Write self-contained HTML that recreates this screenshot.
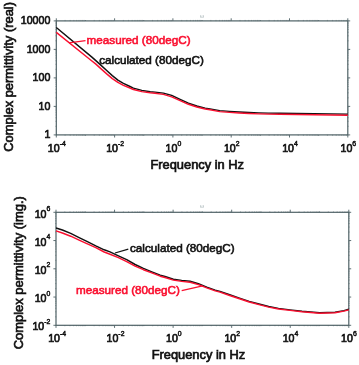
<!DOCTYPE html>
<html><head><meta charset="utf-8"><title>Complex permittivity</title>
<style>
html,body{margin:0;padding:0;background:#fff;}
svg{display:block;filter:blur(0.3px)}
text{font-family:"Liberation Sans",Arial,sans-serif;fill:#111;stroke:#111;}
.t{font-size:11.3px;stroke-width:0.7px;}
.s{font-size:7.3px;stroke-width:0.5px;}
.l{font-size:12.7px;stroke-width:0.65px;}
.x{font-size:12.85px;stroke-width:0.7px;}
.a{font-size:11.7px;stroke-width:0.6px;}
.r{fill:#fa1030;stroke:#fa1030;}
</style></head><body>
<svg width="359" height="365" viewBox="0 0 359 365">
<rect width="359" height="365" fill="#fff" stroke="none"/>
<rect x="56.3" y="20.9" width="291.5" height="114.0" fill="none" stroke="#4f6266" stroke-width="1.2"/>
<path d="M56.30 134.9v2.6M56.30 20.9v-2.6M85.45 134.9v0.8M85.45 20.9v-0.8M114.60 134.9v2.6M114.60 20.9v-2.6M143.75 134.9v0.8M143.75 20.9v-0.8M172.90 134.9v2.6M172.90 20.9v-2.6M202.05 134.9v0.8M202.05 20.9v-0.8M231.20 134.9v2.6M231.20 20.9v-2.6M260.35 134.9v0.8M260.35 20.9v-0.8M289.50 134.9v2.6M289.50 20.9v-2.6M318.65 134.9v0.8M318.65 20.9v-0.8M347.80 134.9v2.6M347.80 20.9v-2.6M56.3 20.90h-2.6M347.8 20.90h2.4M56.3 49.40h-2.6M347.8 49.40h2.4M56.3 77.90h-2.6M347.8 77.90h2.4M56.3 106.40h-2.6M347.8 106.40h2.4M56.3 134.90h-2.6M347.8 134.90h2.4" stroke="#4f6266" stroke-width="0.9" fill="none"/>
<path d="M65.08 134.6v1.3M65.08 21.2v-1.3M70.21 134.6v1.3M70.21 21.2v-1.3M73.85 134.6v1.3M73.85 21.2v-1.3M76.67 134.6v1.3M76.67 21.2v-1.3M78.98 134.6v1.3M78.98 21.2v-1.3M80.93 134.6v1.3M80.93 21.2v-1.3M82.63 134.6v1.3M82.63 21.2v-1.3M84.12 134.6v1.3M84.12 21.2v-1.3M94.23 134.6v1.3M94.23 21.2v-1.3M99.36 134.6v1.3M99.36 21.2v-1.3M103.00 134.6v1.3M103.00 21.2v-1.3M105.82 134.6v1.3M105.82 21.2v-1.3M108.13 134.6v1.3M108.13 21.2v-1.3M110.08 134.6v1.3M110.08 21.2v-1.3M111.78 134.6v1.3M111.78 21.2v-1.3M113.27 134.6v1.3M113.27 21.2v-1.3M123.38 134.6v1.3M123.38 21.2v-1.3M128.51 134.6v1.3M128.51 21.2v-1.3M132.15 134.6v1.3M132.15 21.2v-1.3M134.97 134.6v1.3M134.97 21.2v-1.3M137.28 134.6v1.3M137.28 21.2v-1.3M139.23 134.6v1.3M139.23 21.2v-1.3M140.93 134.6v1.3M140.93 21.2v-1.3M142.42 134.6v1.3M142.42 21.2v-1.3M152.53 134.6v1.3M152.53 21.2v-1.3M157.66 134.6v1.3M157.66 21.2v-1.3M161.30 134.6v1.3M161.30 21.2v-1.3M164.12 134.6v1.3M164.12 21.2v-1.3M166.43 134.6v1.3M166.43 21.2v-1.3M168.38 134.6v1.3M168.38 21.2v-1.3M170.08 134.6v1.3M170.08 21.2v-1.3M171.57 134.6v1.3M171.57 21.2v-1.3M181.68 134.6v1.3M181.68 21.2v-1.3M186.81 134.6v1.3M186.81 21.2v-1.3M190.45 134.6v1.3M190.45 21.2v-1.3M193.27 134.6v1.3M193.27 21.2v-1.3M195.58 134.6v1.3M195.58 21.2v-1.3M197.53 134.6v1.3M197.53 21.2v-1.3M199.23 134.6v1.3M199.23 21.2v-1.3M200.72 134.6v1.3M200.72 21.2v-1.3M210.83 134.6v1.3M210.83 21.2v-1.3M215.96 134.6v1.3M215.96 21.2v-1.3M219.60 134.6v1.3M219.60 21.2v-1.3M222.42 134.6v1.3M222.42 21.2v-1.3M224.73 134.6v1.3M224.73 21.2v-1.3M226.68 134.6v1.3M226.68 21.2v-1.3M228.38 134.6v1.3M228.38 21.2v-1.3M229.87 134.6v1.3M229.87 21.2v-1.3M239.98 134.6v1.3M239.98 21.2v-1.3M245.11 134.6v1.3M245.11 21.2v-1.3M248.75 134.6v1.3M248.75 21.2v-1.3M251.57 134.6v1.3M251.57 21.2v-1.3M253.88 134.6v1.3M253.88 21.2v-1.3M255.83 134.6v1.3M255.83 21.2v-1.3M257.53 134.6v1.3M257.53 21.2v-1.3M259.02 134.6v1.3M259.02 21.2v-1.3M269.13 134.6v1.3M269.13 21.2v-1.3M274.26 134.6v1.3M274.26 21.2v-1.3M277.90 134.6v1.3M277.90 21.2v-1.3M280.72 134.6v1.3M280.72 21.2v-1.3M283.03 134.6v1.3M283.03 21.2v-1.3M284.98 134.6v1.3M284.98 21.2v-1.3M286.68 134.6v1.3M286.68 21.2v-1.3M288.17 134.6v1.3M288.17 21.2v-1.3M298.28 134.6v1.3M298.28 21.2v-1.3M303.41 134.6v1.3M303.41 21.2v-1.3M307.05 134.6v1.3M307.05 21.2v-1.3M309.87 134.6v1.3M309.87 21.2v-1.3M312.18 134.6v1.3M312.18 21.2v-1.3M314.13 134.6v1.3M314.13 21.2v-1.3M315.83 134.6v1.3M315.83 21.2v-1.3M317.32 134.6v1.3M317.32 21.2v-1.3M327.43 134.6v1.3M327.43 21.2v-1.3M332.56 134.6v1.3M332.56 21.2v-1.3M336.20 134.6v1.3M336.20 21.2v-1.3M339.02 134.6v1.3M339.02 21.2v-1.3M341.33 134.6v1.3M341.33 21.2v-1.3M343.28 134.6v1.3M343.28 21.2v-1.3M344.98 134.6v1.3M344.98 21.2v-1.3M346.47 134.6v1.3M346.47 21.2v-1.3M56.599999999999994 40.82h-1.3M347.5 40.82h1.3M56.599999999999994 35.80h-1.3M347.5 35.80h1.3M56.599999999999994 32.24h-1.3M347.5 32.24h1.3M56.599999999999994 29.48h-1.3M347.5 29.48h1.3M56.599999999999994 27.22h-1.3M347.5 27.22h1.3M56.599999999999994 25.31h-1.3M347.5 25.31h1.3M56.599999999999994 23.66h-1.3M347.5 23.66h1.3M56.599999999999994 22.20h-1.3M347.5 22.20h1.3M56.599999999999994 69.32h-1.3M347.5 69.32h1.3M56.599999999999994 64.30h-1.3M347.5 64.30h1.3M56.599999999999994 60.74h-1.3M347.5 60.74h1.3M56.599999999999994 57.98h-1.3M347.5 57.98h1.3M56.599999999999994 55.72h-1.3M347.5 55.72h1.3M56.599999999999994 53.81h-1.3M347.5 53.81h1.3M56.599999999999994 52.16h-1.3M347.5 52.16h1.3M56.599999999999994 50.70h-1.3M347.5 50.70h1.3M56.599999999999994 97.82h-1.3M347.5 97.82h1.3M56.599999999999994 92.80h-1.3M347.5 92.80h1.3M56.599999999999994 89.24h-1.3M347.5 89.24h1.3M56.599999999999994 86.48h-1.3M347.5 86.48h1.3M56.599999999999994 84.22h-1.3M347.5 84.22h1.3M56.599999999999994 82.31h-1.3M347.5 82.31h1.3M56.599999999999994 80.66h-1.3M347.5 80.66h1.3M56.599999999999994 79.20h-1.3M347.5 79.20h1.3M56.599999999999994 126.32h-1.3M347.5 126.32h1.3M56.599999999999994 121.30h-1.3M347.5 121.30h1.3M56.599999999999994 117.74h-1.3M347.5 117.74h1.3M56.599999999999994 114.98h-1.3M347.5 114.98h1.3M56.599999999999994 112.72h-1.3M347.5 112.72h1.3M56.599999999999994 110.81h-1.3M347.5 110.81h1.3M56.599999999999994 109.16h-1.3M347.5 109.16h1.3M56.599999999999994 107.70h-1.3M347.5 107.70h1.3" stroke="#4f6266" stroke-width="0.5" fill="none" opacity="0.8"/>
<rect x="56.0" y="212.3" width="292.8" height="113.0" fill="none" stroke="#4f6266" stroke-width="1.2"/>
<path d="M56.00 325.3v2.6M56.00 212.3v-2.6M85.28 325.3v0.8M85.28 212.3v-0.8M114.56 325.3v2.6M114.56 212.3v-2.6M143.84 325.3v0.8M143.84 212.3v-0.8M173.12 325.3v2.6M173.12 212.3v-2.6M202.40 325.3v0.8M202.40 212.3v-0.8M231.68 325.3v2.6M231.68 212.3v-2.6M260.96 325.3v0.8M260.96 212.3v-0.8M290.24 325.3v2.6M290.24 212.3v-2.6M319.52 325.3v0.8M319.52 212.3v-0.8M348.80 325.3v2.6M348.80 212.3v-2.6M56.0 212.30h-2.6M348.8 212.30h2.4M56.0 240.55h-2.6M348.8 240.55h2.4M56.0 268.80h-2.6M348.8 268.80h2.4M56.0 297.05h-2.6M348.8 297.05h2.4M56.0 325.30h-2.6M348.8 325.30h2.4" stroke="#4f6266" stroke-width="0.9" fill="none"/>
<path d="M64.81 325.0v1.3M64.81 212.60000000000002v-1.3M69.97 325.0v1.3M69.97 212.60000000000002v-1.3M73.63 325.0v1.3M73.63 212.60000000000002v-1.3M76.47 325.0v1.3M76.47 212.60000000000002v-1.3M78.78 325.0v1.3M78.78 212.60000000000002v-1.3M80.74 325.0v1.3M80.74 212.60000000000002v-1.3M82.44 325.0v1.3M82.44 212.60000000000002v-1.3M83.94 325.0v1.3M83.94 212.60000000000002v-1.3M94.09 325.0v1.3M94.09 212.60000000000002v-1.3M99.25 325.0v1.3M99.25 212.60000000000002v-1.3M102.91 325.0v1.3M102.91 212.60000000000002v-1.3M105.75 325.0v1.3M105.75 212.60000000000002v-1.3M108.06 325.0v1.3M108.06 212.60000000000002v-1.3M110.02 325.0v1.3M110.02 212.60000000000002v-1.3M111.72 325.0v1.3M111.72 212.60000000000002v-1.3M113.22 325.0v1.3M113.22 212.60000000000002v-1.3M123.37 325.0v1.3M123.37 212.60000000000002v-1.3M128.53 325.0v1.3M128.53 212.60000000000002v-1.3M132.19 325.0v1.3M132.19 212.60000000000002v-1.3M135.03 325.0v1.3M135.03 212.60000000000002v-1.3M137.34 325.0v1.3M137.34 212.60000000000002v-1.3M139.30 325.0v1.3M139.30 212.60000000000002v-1.3M141.00 325.0v1.3M141.00 212.60000000000002v-1.3M142.50 325.0v1.3M142.50 212.60000000000002v-1.3M152.65 325.0v1.3M152.65 212.60000000000002v-1.3M157.81 325.0v1.3M157.81 212.60000000000002v-1.3M161.47 325.0v1.3M161.47 212.60000000000002v-1.3M164.31 325.0v1.3M164.31 212.60000000000002v-1.3M166.62 325.0v1.3M166.62 212.60000000000002v-1.3M168.58 325.0v1.3M168.58 212.60000000000002v-1.3M170.28 325.0v1.3M170.28 212.60000000000002v-1.3M171.78 325.0v1.3M171.78 212.60000000000002v-1.3M181.93 325.0v1.3M181.93 212.60000000000002v-1.3M187.09 325.0v1.3M187.09 212.60000000000002v-1.3M190.75 325.0v1.3M190.75 212.60000000000002v-1.3M193.59 325.0v1.3M193.59 212.60000000000002v-1.3M195.90 325.0v1.3M195.90 212.60000000000002v-1.3M197.86 325.0v1.3M197.86 212.60000000000002v-1.3M199.56 325.0v1.3M199.56 212.60000000000002v-1.3M201.06 325.0v1.3M201.06 212.60000000000002v-1.3M211.21 325.0v1.3M211.21 212.60000000000002v-1.3M216.37 325.0v1.3M216.37 212.60000000000002v-1.3M220.03 325.0v1.3M220.03 212.60000000000002v-1.3M222.87 325.0v1.3M222.87 212.60000000000002v-1.3M225.18 325.0v1.3M225.18 212.60000000000002v-1.3M227.14 325.0v1.3M227.14 212.60000000000002v-1.3M228.84 325.0v1.3M228.84 212.60000000000002v-1.3M230.34 325.0v1.3M230.34 212.60000000000002v-1.3M240.49 325.0v1.3M240.49 212.60000000000002v-1.3M245.65 325.0v1.3M245.65 212.60000000000002v-1.3M249.31 325.0v1.3M249.31 212.60000000000002v-1.3M252.15 325.0v1.3M252.15 212.60000000000002v-1.3M254.46 325.0v1.3M254.46 212.60000000000002v-1.3M256.42 325.0v1.3M256.42 212.60000000000002v-1.3M258.12 325.0v1.3M258.12 212.60000000000002v-1.3M259.62 325.0v1.3M259.62 212.60000000000002v-1.3M269.77 325.0v1.3M269.77 212.60000000000002v-1.3M274.93 325.0v1.3M274.93 212.60000000000002v-1.3M278.59 325.0v1.3M278.59 212.60000000000002v-1.3M281.43 325.0v1.3M281.43 212.60000000000002v-1.3M283.74 325.0v1.3M283.74 212.60000000000002v-1.3M285.70 325.0v1.3M285.70 212.60000000000002v-1.3M287.40 325.0v1.3M287.40 212.60000000000002v-1.3M288.90 325.0v1.3M288.90 212.60000000000002v-1.3M299.05 325.0v1.3M299.05 212.60000000000002v-1.3M304.21 325.0v1.3M304.21 212.60000000000002v-1.3M307.87 325.0v1.3M307.87 212.60000000000002v-1.3M310.71 325.0v1.3M310.71 212.60000000000002v-1.3M313.02 325.0v1.3M313.02 212.60000000000002v-1.3M314.98 325.0v1.3M314.98 212.60000000000002v-1.3M316.68 325.0v1.3M316.68 212.60000000000002v-1.3M318.18 325.0v1.3M318.18 212.60000000000002v-1.3M328.33 325.0v1.3M328.33 212.60000000000002v-1.3M333.49 325.0v1.3M333.49 212.60000000000002v-1.3M337.15 325.0v1.3M337.15 212.60000000000002v-1.3M339.99 325.0v1.3M339.99 212.60000000000002v-1.3M342.30 325.0v1.3M342.30 212.60000000000002v-1.3M344.26 325.0v1.3M344.26 212.60000000000002v-1.3M345.96 325.0v1.3M345.96 212.60000000000002v-1.3M347.46 325.0v1.3M347.46 212.60000000000002v-1.3M56.3 232.05h-1.3M348.5 232.05h1.3M56.3 227.07h-1.3M348.5 227.07h1.3M56.3 223.54h-1.3M348.5 223.54h1.3M56.3 220.80h-1.3M348.5 220.80h1.3M56.3 218.57h-1.3M348.5 218.57h1.3M56.3 216.68h-1.3M348.5 216.68h1.3M56.3 215.04h-1.3M348.5 215.04h1.3M56.3 213.59h-1.3M348.5 213.59h1.3M56.3 260.30h-1.3M348.5 260.30h1.3M56.3 255.32h-1.3M348.5 255.32h1.3M56.3 251.79h-1.3M348.5 251.79h1.3M56.3 249.05h-1.3M348.5 249.05h1.3M56.3 246.82h-1.3M348.5 246.82h1.3M56.3 244.93h-1.3M348.5 244.93h1.3M56.3 243.29h-1.3M348.5 243.29h1.3M56.3 241.84h-1.3M348.5 241.84h1.3M56.3 288.55h-1.3M348.5 288.55h1.3M56.3 283.57h-1.3M348.5 283.57h1.3M56.3 280.04h-1.3M348.5 280.04h1.3M56.3 277.30h-1.3M348.5 277.30h1.3M56.3 275.07h-1.3M348.5 275.07h1.3M56.3 273.18h-1.3M348.5 273.18h1.3M56.3 271.54h-1.3M348.5 271.54h1.3M56.3 270.09h-1.3M348.5 270.09h1.3M56.3 316.80h-1.3M348.5 316.80h1.3M56.3 311.82h-1.3M348.5 311.82h1.3M56.3 308.29h-1.3M348.5 308.29h1.3M56.3 305.55h-1.3M348.5 305.55h1.3M56.3 303.32h-1.3M348.5 303.32h1.3M56.3 301.43h-1.3M348.5 301.43h1.3M56.3 299.79h-1.3M348.5 299.79h1.3M56.3 298.34h-1.3M348.5 298.34h1.3" stroke="#4f6266" stroke-width="0.5" fill="none" opacity="0.8"/>
<path d="M56.3 27.5 L92.2 57.4 L101.1 65.4 L106.7 70.5 L112.3 75.6 L117.9 80.1 L123.4 83.3 L130.0 86.5 L133.4 88.1 L141.8 90.4 L150.2 91.7 L155.0 92.1 L163.4 93.1 L171.7 95.4 L180.1 99.3 L188.4 103.1 L196.8 106.0 L205.2 108.1 L210.0 108.9 L219.7 110.6 L229.5 111.4 L239.2 112.0 L249.0 112.5 L258.7 112.9 L268.5 113.1 L280.0 113.3 L347.8 114.1" fill="none" stroke="#111" stroke-width="1.45" stroke-linejoin="round" stroke-linecap="butt"/>
<path d="M56.3 32.4 L90.0 59.5 L95.6 63.9 L101.1 68.9 L106.7 73.9 L112.3 78.6 L117.9 82.4 L123.4 85.3 L130.0 88.0 L133.4 89.5 L141.8 91.6 L150.2 92.8 L155.0 93.3 L163.4 94.4 L171.7 96.9 L180.1 100.7 L188.4 104.3 L196.8 107.0 L205.2 109.0 L210.0 109.8 L219.7 111.6 L229.5 112.4 L239.2 113.0 L249.0 113.5 L258.7 113.9 L268.5 114.1 L280.0 114.3 L347.8 115.3" fill="none" stroke="#fa1030" stroke-width="1.45" stroke-linejoin="round" stroke-linecap="butt"/>
<path d="M56.0 228.0 L62.4 230.0 L70.7 233.4 L79.1 237.6 L87.4 241.7 L95.8 245.9 L104.2 249.8 L110.0 251.9 L118.4 255.9 L126.7 259.7 L135.1 264.5 L143.4 268.4 L151.8 271.8 L160.2 275.1 L165.0 276.5 L173.4 279.2 L181.7 280.4 L190.1 281.2 L198.4 283.7 L206.8 287.1 L215.2 290.1 L220.0 291.4 L229.7 294.8 L239.5 298.1 L249.2 301.4 L259.0 304.0 L268.7 306.5 L278.5 308.4 L290.0 309.9 L302.0 311.3 L319.6 312.8 L335.0 312.2 L343.9 310.6 L348.8 309.3" fill="none" stroke="#111" stroke-width="1.45" stroke-linejoin="round" stroke-linecap="butt"/>
<path d="M56.0 230.9 L62.4 233.0 L70.7 236.2 L79.1 240.1 L87.4 243.9 L95.8 247.6 L104.2 252.0 L110.0 254.2 L118.4 257.6 L126.7 261.7 L135.1 266.2 L143.4 269.7 L151.8 272.9 L160.2 276.2 L165.0 277.5 L173.4 280.1 L181.7 281.4 L190.1 282.2 L198.4 284.6 L206.8 287.9 L215.2 290.9 L220.0 292.1 L229.7 295.5 L239.5 298.8 L249.2 302.0 L259.0 304.6 L268.7 307.1 L278.5 309.0 L290.0 310.4 L302.0 311.8 L319.6 313.3 L335.0 312.7 L343.9 311.1 L348.8 309.9" fill="none" stroke="#fa1030" stroke-width="1.45" stroke-linejoin="round" stroke-linecap="butt"/>
<path d="M69 42.9L85.5 40.6" stroke="#fa1030" stroke-width="1.2" fill="none"/>
<text x="86.6" y="44.1" class="a r">measured (80degC)</text>
<text x="99.2" y="63.6" class="a">calculated (80degC)</text>
<path d="M115 253L128.3 249.1" stroke="#111" stroke-width="1.2" fill="none"/>
<text x="130" y="252" class="a">calculated (80degC)</text>
<text x="76" y="294" class="a r">measured (80degC)</text>
<path d="M181.7 290.6L202.6 285.9" stroke="#fa1030" stroke-width="1.2" fill="none"/>
<text x="202" y="18" text-anchor="middle" style="font-size:5px;fill:#8fa0a3;stroke:none">ω</text>
<text x="202" y="208.3" text-anchor="middle" style="font-size:5px;fill:#8fa0a3;stroke:none">ω</text>
<text transform="translate(50.3,24.3) scale(0.94,1)" text-anchor="end" class="t">10000</text>
<text transform="translate(50.3,53) scale(0.94,1)" text-anchor="end" class="t">1000</text>
<text transform="translate(50.3,81.3) scale(0.94,1)" text-anchor="end" class="t">100</text>
<text transform="translate(50.3,110) scale(0.94,1)" text-anchor="end" class="t">10</text>
<text transform="translate(50.3,138.3) scale(0.94,1)" text-anchor="end" class="t">1</text>
<text transform="translate(56.8,152.1) scale(0.94,1)" text-anchor="middle" class="t">10<tspan dy="-6.6" class="s">-4</tspan></text>
<text transform="translate(115.1,152.1) scale(0.94,1)" text-anchor="middle" class="t">10<tspan dy="-6.6" class="s">-2</tspan></text>
<text transform="translate(173.4,152.1) scale(0.94,1)" text-anchor="middle" class="t">10<tspan dy="-6.6" class="s">0</tspan></text>
<text transform="translate(231.7,152.1) scale(0.94,1)" text-anchor="middle" class="t">10<tspan dy="-6.6" class="s">2</tspan></text>
<text transform="translate(290.0,152.1) scale(0.94,1)" text-anchor="middle" class="t">10<tspan dy="-6.6" class="s">4</tspan></text>
<text transform="translate(348.3,152.1) scale(0.94,1)" text-anchor="middle" class="t">10<tspan dy="-6.6" class="s">6</tspan></text>
<text x="197.2" y="168.5" text-anchor="middle" class="x">Frequency in Hz</text>
<text transform="translate(12.7,76.9) rotate(-90)" text-anchor="middle" class="l" style="font-size:12.9px">Complex permittivity (real)</text>
<text transform="translate(50.3,217.5) scale(0.94,1)" text-anchor="end" class="t">10<tspan dy="-6.6" class="s">6</tspan></text>
<text transform="translate(50.3,245.7) scale(0.94,1)" text-anchor="end" class="t">10<tspan dy="-6.6" class="s">4</tspan></text>
<text transform="translate(50.3,274) scale(0.94,1)" text-anchor="end" class="t">10<tspan dy="-6.6" class="s">2</tspan></text>
<text transform="translate(50.3,302.2) scale(0.94,1)" text-anchor="end" class="t">10<tspan dy="-6.6" class="s">0</tspan></text>
<text transform="translate(50.3,330.4) scale(0.94,1)" text-anchor="end" class="t">10<tspan dy="-6.6" class="s">-2</tspan></text>
<text transform="translate(57.1,342.3) scale(0.94,1)" text-anchor="middle" class="t">10<tspan dy="-6.6" class="s">-4</tspan></text>
<text transform="translate(115.5,342.3) scale(0.94,1)" text-anchor="middle" class="t">10<tspan dy="-6.6" class="s">-2</tspan></text>
<text transform="translate(173.8,342.3) scale(0.94,1)" text-anchor="middle" class="t">10<tspan dy="-6.6" class="s">0</tspan></text>
<text transform="translate(232.2,342.3) scale(0.94,1)" text-anchor="middle" class="t">10<tspan dy="-6.6" class="s">2</tspan></text>
<text transform="translate(290.5,342.3) scale(0.94,1)" text-anchor="middle" class="t">10<tspan dy="-6.6" class="s">4</tspan></text>
<text transform="translate(348.9,342.3) scale(0.94,1)" text-anchor="middle" class="t">10<tspan dy="-6.6" class="s">6</tspan></text>
<text x="198.4" y="359.1" text-anchor="middle" class="x">Frequency in Hz</text>
<text transform="translate(22.9,272.75) rotate(-90)" text-anchor="middle" class="l" style="font-size:12.95px">Complex permittivity (img.)</text>
</svg>
</body></html>
